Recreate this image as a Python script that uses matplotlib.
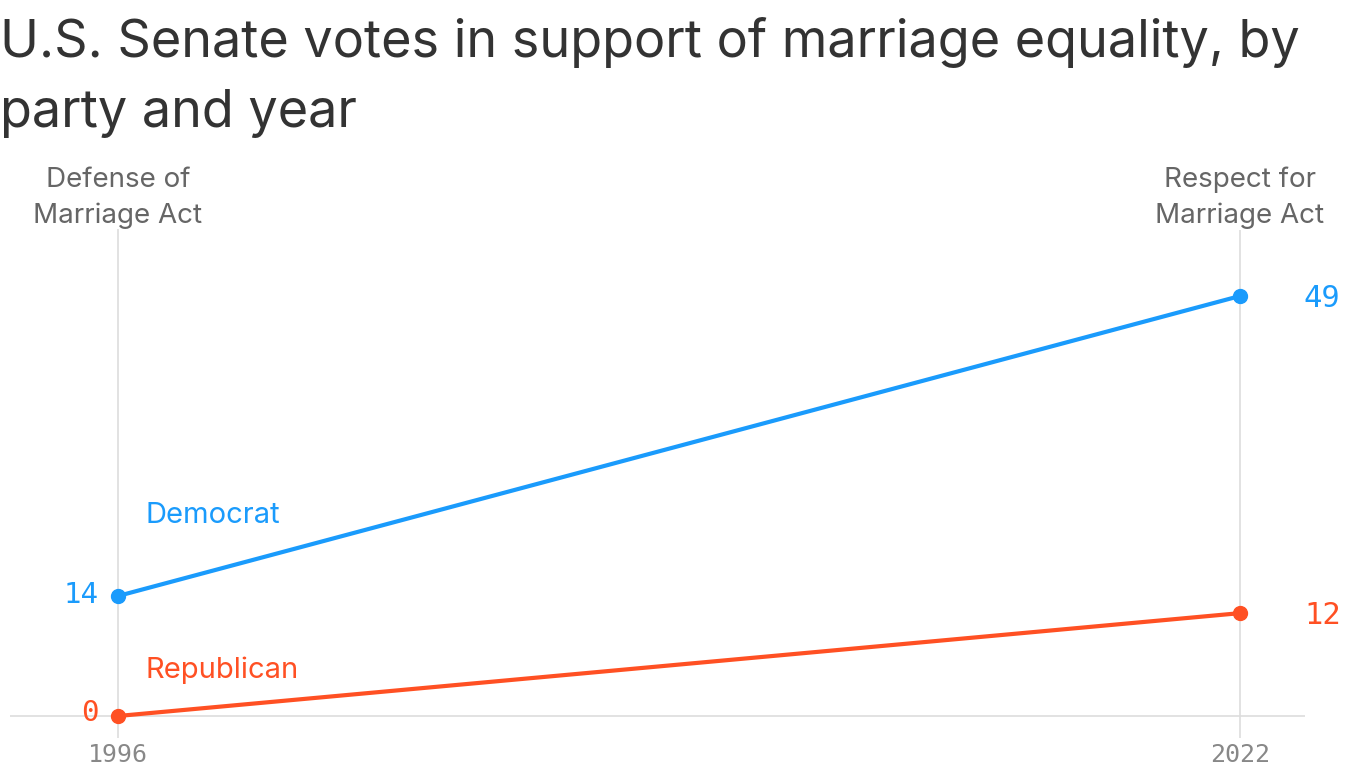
import numpy as np
import matplotlib.pyplot as plt

# data
years = [1996, 2022]
democrat = [14, 49]
republican = [0, 12]
act_labels = ["Defense of\nMarriage Act", "Respect for\nMarriage Act"]
title_lines = ["U.S. Senate votes in support of marriage equality, by", "party and year"]

BLUE = "#1a9bfc"
ORANGE = "#ff5023"
GRID = "#dddddd"
TITLE = "#333333"
LABEL = "#666666"

plt.rcParams['font.family'] = ['Inter', 'DejaVu Sans']
MONO = 'DejaVu Sans Mono'

W, H = 1366, 768
fig = plt.figure(figsize=(W / 100, H / 100), dpi=100)

# axes placed in pixel coordinates of the reference
ax_l, ax_r, ax_t, ax_b = 10, 1305, 195, 738
ax = fig.add_axes([ax_l / W, (H - ax_b) / H, (ax_r - ax_l) / W, (ax_b - ax_t) / H])

px_per_year = (1240 - 118) / (years[1] - years[0])
ax.set_xlim(years[0] - (118 - ax_l) / px_per_year, years[1] + (ax_r - 1240) / px_per_year)
px_per_vote = (716 - 296) / 49
ax.set_ylim(-(ax_b - 716) / px_per_vote, (716 - ax_t) / px_per_vote)
ax.axis('off')

for yr in years:
    ax.axvline(yr, color=GRID, lw=1.2, zorder=0)
ax.axhline(0, color=GRID, lw=1.2, zorder=0)

ax.plot(years, democrat, color=BLUE, lw=3, marker='o', ms=10, zorder=3, solid_capstyle='round')
ax.plot(years, republican, color=ORANGE, lw=3, marker='o', ms=10, zorder=3, solid_capstyle='round')

# end values
ax.annotate(str(democrat[0]), (years[0], democrat[0]), xytext=(-14, 1), textcoords='offset points',
            ha='right', va='center', color=BLUE, fontsize=21, family=MONO)
ax.annotate(str(republican[0]), (years[0], republican[0]), xytext=(-14, 2), textcoords='offset points',
            ha='right', va='center', color=ORANGE, fontsize=21, family=MONO)
ax.annotate(str(democrat[1]), (years[1], democrat[1]), xytext=(46, -2), textcoords='offset points',
            ha='left', va='center', color=BLUE, fontsize=22, family=MONO)
ax.annotate(str(republican[1]), (years[1], republican[1]), xytext=(46, -2), textcoords='offset points',
            ha='left', va='center', color=ORANGE, fontsize=22, family=MONO)

# series labels
ax.annotate("Democrat", (years[0], democrat[0]), xytext=(20, 58), textcoords='offset points',
            ha='left', va='center', color=BLUE, fontsize=21)
ax.annotate("Republican", (years[0], republican[0]), xytext=(20, 33), textcoords='offset points',
            ha='left', va='center', color=ORANGE, fontsize=21)

# year ticks
for yr in years:
    ax.annotate(str(yr), (yr, 0), xytext=(0, -28), textcoords='offset points',
                ha='center', va='center', color="#888888", fontsize=18, family=MONO)

# act labels above the gridlines
for yr, lab in zip(years, act_labels):
    ax.annotate(lab, (yr, ax.get_ylim()[1]), xytext=(0, -2), textcoords='offset points',
                ha='center', va='center', color=LABEL, fontsize=20, linespacing=1.45,
                bbox=dict(facecolor='white', edgecolor='none', pad=0.5), annotation_clip=False)

fig.text(0, 1 - 57 / H, title_lines[0], ha='left', va='baseline', color=TITLE, fontsize=37.6)
fig.text(0, 1 - 127 / H, title_lines[1], ha='left', va='baseline', color=TITLE, fontsize=37.6)

fig.savefig("out.png", dpi=100, facecolor='white')
